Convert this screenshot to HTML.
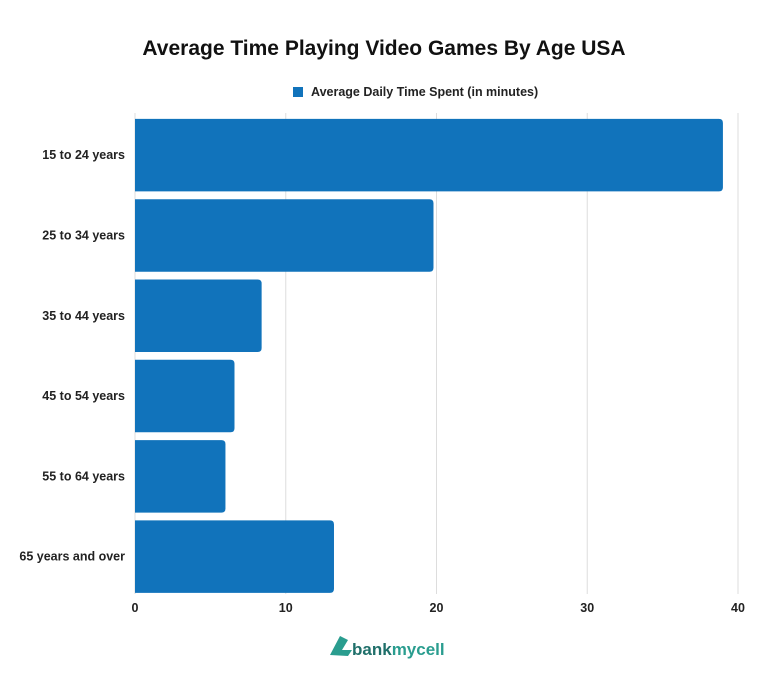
<!DOCTYPE html>
<html><head><meta charset="utf-8"><style>
body{margin:0;background:#fff;width:768px;height:675px;overflow:hidden;font-family:"Liberation Sans",sans-serif}
</style></head><body>
<svg id="chart" width="768" height="675" xmlns="http://www.w3.org/2000/svg">
<text x="384" y="55" text-anchor="middle" font-size="21" font-weight="bold" fill="#111">Average Time Playing Video Games By Age USA</text>
<g>
<rect x="293" y="87" width="10" height="10" fill="#1173bb"/>
<text x="311" y="96" font-size="12.5" font-weight="bold" fill="#222">Average Daily Time Spent (in minutes)</text>
</g>
<g id="grid"></g><g id="bars"></g><g id="ylabels"></g><g id="xlabels"></g>
<g>
<path d="M330 655 L340 636 L348 640 L342 650 L352 650 L348 656 Z" fill="#2a9d8f"/>
<text x="352" y="655" font-size="17" font-weight="bold" fill="#1f6f6a">bank<tspan fill="#2a9d8f">mycell</tspan></text>
</g>
</svg>
<script>
const categories=["15 to 24 years","25 to 34 years","35 to 44 years","45 to 54 years","55 to 64 years","65 years and over"];
const values=[39,19.8,8.4,6.6,6,13.2];
const ticks=[0,10,20,30,40];
const ns="http://www.w3.org/2000/svg";
const x0=135,x1=738,maxV=40,plotTop=113,band=80.3,barH=72.5;
const xs=v=>x0+(x1-x0)*v/maxV;
function mk(t,a,p){const e=document.createElementNS(ns,t);for(const k in a)e.setAttribute(k,a[k]);document.getElementById(p).appendChild(e);return e;}
ticks.forEach(t=>{
 const l=mk('line',{x1:xs(t),x2:xs(t),y1:plotTop,y2:594,stroke:'#ddd','stroke-width':1},'grid');
 
 
 const tx=mk('text',{x:xs(t),y:612,'text-anchor':'middle','font-size':12.5,'font-weight':'bold',fill:'#222'},'xlabels');
 tx.textContent=t;
 
 
});
categories.forEach((c,i)=>{
 const y=plotTop+i*band+(band-barH)/2+2;
 const w=xs(values[i])-x0;
 const p=mk('path',{d:`M${x0} ${y} H${x0+w-4} Q${x0+w} ${y} ${x0+w} ${y+4} V${y+barH-4} Q${x0+w} ${y+barH} ${x0+w-4} ${y+barH} H${x0} Z`,fill:'#1173bb'},'bars');
 
 
 const t=mk('text',{x:125,y:y+barH/2+4,'text-anchor':'end','font-size':12.5,'font-weight':'bold',fill:'#222'},'ylabels');
 t.textContent=c;
 
 
});
</script>
</body></html>
